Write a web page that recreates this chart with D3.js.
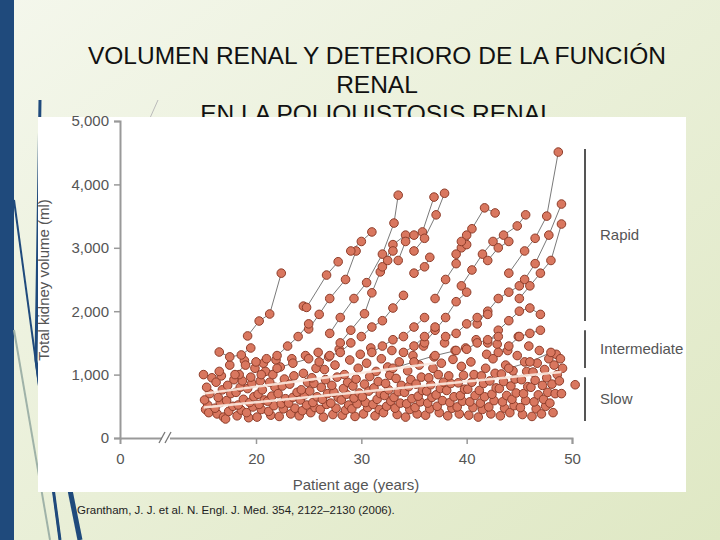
<!DOCTYPE html>
<html><head><meta charset="utf-8">
<script src="https://cdn.jsdelivr.net/npm/d3@7"></script>
<style>body{margin:0;}svg{display:block;}</style>
</head><body>
<svg id="c" width="720" height="540"></svg>
<script>
const titleLines = ["VOLUMEN RENAL Y DETERIORO DE LA FUNCIÓN", "RENAL", "EN LA POLIQUISTOSIS RENAL"];
const xTicks = [0, 20, 30, 40, 50];
const yTicks = [0, 1000, 2000, 3000, 4000, 5000];
const groups = [
  {name: "Rapid", from: 1845, to: 4560},
  {name: "Intermediate", from: 1104, to: 1700},
  {name: "Slow", from: 270, to: 960}
];
// rapid-growth patient trajectories: "age:volume" pairs
const trajectories = [
  "16.5:1356 17.5:1280 18.6:1310 19.5:1420",
  "19.2:1610 20.3:1845 21.3:1956 22.4:2600",
  "24.5:2080 24.8:2060 26.7:2570 27.8:2780",
  "25:1720 26:1950 27:2200 28.5:2500 29.5:2950",
  "27:1650 28:1900 29.3:2200 30.5:2450 32:2900 33.1:3390 33.5:3830",
  "28:1500 29:1700 30.3:1960 31:2290 31.8:2620 33:3050 34.2:3200",
  "29:2950 30:3100 31:3250",
  "33.5:2800 34.2:3100 35:3200 35.8:3250 36.9:3800",
  "35:2950 36:3150 37.1:3520 37.9:3860",
  "37:2200 38:2500 39:2750 39.5:3000 40:3050 40.5:3300 41.7:3630 42.7:3550",
  "39.5:2400 40.5:2650 41.5:2900 42.5:3100 43.5:3200 44.8:3345 45.6:3520",
  "44:2600 45.5:2950 46.5:3150 47.6:3500 48.7:4510",
  "45.5:2500 46.5:2750 47.8:3200 49:3690",
  "45:2200 46:2400 47:2600 48:2800 49:3375",
  "41:1800 42:2000 43:2200 44:2300 45:2400",
  "22:1300 23:1450 24:1600 25:1800",
  "30:1600 31:1750 32:1850 33:2050 34:2250",
  "31:1350 32:1450 33:1550 34:1600 35:1750 36:1900",
  "36:1500 37:1700 38:1900 39:2150 40:2300",
  "34:1350 35:1450 36:1600 37:1750",
  "38:1600 39:1650 40:1800 41:1900 42:1950",
  "42:1500 43:1700 44:1850 45:2000 46:2050 47:1950",
  "18:1000 19:1150 20:1200 21:1250",
  "26:1200 27:1300 28:1350 29:1500",
  "43:1350 44:1450 45:1600 46:1650 47:1700",
  "40:1400 41:1500 42:1550 43:1600",
  "32:2700 32.5:2800 33:2950",
  "39:2900 39.5:3100 40:3200",
  "42:2800 43:3000 44:3100",
  "35:2600 36:2700 36.5:2850",
  "20.5:1000 22:1100 23.5:1180 25:1250",
  "33:1100 35:1200 37:1300 39:1380",
  "44:1100 46:1200 48:1350"
];
// slow / intermediate single measurements: "age:volume"
const scatter = [
  "15.2:450 15.4:520 15.1:600 15.6:700 15.3:800 15.8:950 15.0:1000 15.5:400",
  "16.3:380 16.1:470 16.6:560 16.4:640 16.8:760 16.2:880 16.7:980 16.5:1050 16.9:330",
  "17.1:300 17.4:420 17.8:500 17.2:590 17.6:700 17.3:830 17.9:920 17.5:1150",
  "18.2:350 18.6:440 18.3:520 18.8:610 18.1:720 18.5:800 18.7:900 18.4:1000 18.9:1220",
  "19.3:320 19.1:400 19.7:490 19.4:560 19.8:650 19.2:780 19.6:860 19.5:960 19.9:1100",
  "20.1:330 20.5:450 20.3:530 20.8:600 20.2:690 20.6:760 20.4:900 20.9:1050 20.7:1180",
  "21.4:360 21.2:420 21.7:510 21.1:580 21.5:660 21.8:800 21.3:880 21.6:1000 21.9:1230",
  "22.2:340 22.6:460 22.4:540 22.8:620 22.1:700 22.5:820 22.7:930 22.3:1120",
  "23.3:380 23.7:470 23.1:550 23.5:640 23.9:720 23.2:850 23.6:980 23.4:1250",
  "24.1:350 24.4:430 24.8:520 24.2:600 24.6:680 24.3:760 24.9:880 24.5:1020 24.7:1300",
  "25.2:400 25.6:480 25.4:560 25.8:650 25.1:740 25.5:860 25.3:950 25.7:1100 25.9:1350",
  "26.4:330 26.1:450 26.7:530 26.3:610 26.8:700 26.2:800 26.6:920 26.5:1080 26.9:1280",
  "27.3:370 27.6:470 27.1:550 27.8:640 27.4:720 27.2:830 27.7:960 27.5:1150 27.9:1400",
  "28.2:360 28.5:440 28.8:520 28.1:600 28.6:690 28.3:780 28.7:880 28.4:1000 28.9:1230",
  "29.4:340 29.1:460 29.6:540 29.3:630 29.8:710 29.2:820 29.5:930 29.7:1100 29.9:1320",
  "30.2:380 30.6:480 30.4:560 30.1:650 30.7:740 30.3:850 30.8:970 30.5:1180 30.9:1420",
  "31.3:350 31.7:450 31.1:530 31.5:610 31.8:700 31.2:790 31.6:890 31.4:1050 31.9:1250",
  "32.1:400 32.4:500 32.8:580 32.2:670 32.6:760 32.3:860 32.7:990 32.5:1120 32.9:1380",
  "33.4:370 33.2:470 33.7:550 33.1:640 33.5:730 33.8:830 33.3:940 33.6:1200",
  "34.2:330 34.6:450 34.3:540 34.8:620 34.1:720 34.5:810 34.7:920 34.4:1060 34.9:1300",
  "35.3:380 35.1:480 35.6:570 35.4:660 35.8:750 35.2:850 35.7:960 35.5:1150 35.9:1450",
  "36.1:360 36.5:460 36.3:550 36.7:640 36.2:740 36.6:840 36.4:950 36.8:1100 36.9:1280",
  "37.4:400 37.2:500 37.7:590 37.1:680 37.5:780 37.8:880 37.3:1000 37.6:1180 37.9:1500",
  "38.2:350 38.6:470 38.4:560 38.8:650 38.1:750 38.5:860 38.3:980 38.7:1240 38.9:1380",
  "39.3:380 39.1:490 39.6:580 39.4:670 39.8:770 39.2:870 39.7:990 39.5:1130 39.9:1420",
  "40.2:360 40.6:480 40.3:570 40.8:670 40.1:770 40.5:880 40.7:1000 40.4:1200 40.9:1550",
  "41.1:330 41.5:450 41.3:550 41.7:650 41.2:750 41.6:860 41.4:980 41.8:1100 41.9:1320",
  "42.3:380 42.1:490 42.6:590 42.4:690 42.8:790 42.2:900 42.7:1020 42.5:1250 42.9:1480",
  "43.2:350 43.6:470 43.4:570 43.8:670 43.1:780 43.5:890 43.3:1010 43.7:1150 43.9:1380",
  "44.1:400 44.5:510 44.3:610 44.7:710 44.2:820 44.6:930 44.4:1060 44.8:1300 44.9:1600",
  "45.3:370 45.1:480 45.6:590 45.4:700 45.8:810 45.2:920 45.7:1050 45.5:1200 45.9:1450",
  "46.2:340 46.6:460 46.4:570 46.8:680 46.1:800 46.5:910 46.3:1040 46.7:1180 46.9:1380",
  "47.1:380 47.5:500 47.3:610 47.7:720 47.2:830 47.6:950 47.4:1080 47.8:1250",
  "48.2:400 47.9:550 48.4:700 48.1:850 48.6:1000 48.3:1150 48.5:1320",
  "49.0:700 48.8:900 49.1:1100 48.9:1250 50.3:840"
];
// white trend lines (start/end)
const trendSlow = [[15, 480], [49, 1040]];
const trendInter = [[15, 700], [37, 1180]];
const citation = "Grantham, J. J. et al. N. Engl. J. Med. 354, 2122–2130 (2006).";

const parse = s => s.split(" ").map(p => p.split(":").map(Number));
const svg = d3.select("#c");
const defs = svg.append("defs");
const g = defs.append("linearGradient").attr("id","bg").attr("x1","0").attr("y1","0").attr("x2","1").attr("y2","1");
g.append("stop").attr("offset","0").attr("stop-color","#f4f7ec");
g.append("stop").attr("offset","1").attr("stop-color","#dfe8c4");
svg.append("rect").attr("width",720).attr("height",540).attr("fill","url(#bg)");
svg.append("rect").attr("width",14).attr("height",540).attr("fill","#1f4a7c");
const deco = svg.append("g").attr("fill","none");
deco.append("path").attr("d","M40,100 L36,360 L60,540").attr("stroke","#1f4a7c").attr("stroke-width",3);
deco.append("path").attr("d","M14,200 L60,540").attr("stroke","#1f4a7c").attr("stroke-width",2);
deco.append("path").attr("d","M14,330 L50,540").attr("stroke","#9fb2a8").attr("stroke-width",2);
deco.append("path").attr("d","M70,490 L80,540").attr("stroke","#1f4a7c").attr("stroke-width",5);
deco.append("path").attr("d","M150,118 L158,100").attr("stroke","#bbb").attr("stroke-width",1);

svg.append("g").selectAll("text").data(titleLines).join("text")
  .attr("x",377).attr("y",(d,i)=>64+i*29).attr("text-anchor","middle")
  .attr("font-family","Liberation Sans, Arial").attr("font-size",24.5).attr("fill","#111").text(d=>d);

svg.append("rect").attr("x",38).attr("y",117).attr("width",648).attr("height",375).attr("fill","#fff");

const x = d3.scaleLinear().domain([0,10,20,50]).range([120,151,256,572]);
const y = d3.scaleLinear().domain([0,5000]).range([438,121]);
const font = "Liberation Sans, Arial";

const ya = svg.append("g").attr("transform","translate(120,0)")
  .call(d3.axisLeft(y).tickValues(yTicks).tickFormat(d3.format(",")).tickSize(6).tickPadding(5));
const xa = svg.append("g").attr("transform","translate(0,438)")
  .call(d3.axisBottom(x).tickValues(xTicks).tickSize(6).tickPadding(9));
[ya,xa].forEach(a=>{a.select(".domain").attr("stroke","#999").attr("stroke-width",2);
  a.selectAll(".tick line").attr("stroke","#999").attr("stroke-width",1.5);
  a.selectAll("text").attr("font-family",font).attr("font-size",15).attr("fill","#555");});
xa.selectAll(".tick").filter(d=>d===0).select("line").remove();
// axis break mark
svg.append("rect").attr("x",162).attr("y",432).attr("width",8).attr("height",12).attr("fill","#fff");
[162,168].forEach(px=>svg.append("line").attr("x1",px-3).attr("y1",443).attr("x2",px+3).attr("y2",432).attr("stroke","#777").attr("stroke-width",1.3));

svg.append("text").attr("x",356).attr("y",490).attr("text-anchor","middle").attr("font-family",font).attr("font-size",15).attr("fill","#555").text("Patient age (years)");
svg.append("text").attr("transform","translate(49,280) rotate(-90)").attr("text-anchor","middle").attr("font-family",font).attr("font-size",15).attr("fill","#555").text("Total kidney volume (ml)");

const line = d3.line().x(d=>x(d[0])).y(d=>y(d[1]));
const trajs = trajectories.map(parse);
svg.append("g").selectAll("path").data(trajs).join("path").attr("d",line)
  .attr("fill","none").attr("stroke","#7a7a7a").attr("stroke-width",1);

const dots = scatter.flatMap(parse).concat(trajs.flat());
svg.append("g").selectAll("circle").data(dots).join("circle")
  .attr("cx",d=>x(d[0])).attr("cy",d=>y(d[1])).attr("r",4.3)
  .attr("fill","#d9775f").attr("stroke","#8e3d2a").attr("stroke-width",1);

[trendSlow,trendInter].forEach(t=>svg.append("path").attr("d",line(t)).attr("stroke","#fbe9df").attr("stroke-width",2.5).attr("fill","none").attr("opacity",0.9));

const gg = svg.append("g");
groups.forEach(gr=>{
  gg.append("line").attr("x1",585).attr("x2",585).attr("y1",y(gr.to)).attr("y2",y(gr.from)).attr("stroke","#555").attr("stroke-width",2);
  gg.append("text").attr("x",600).attr("y",(y(gr.to)+y(gr.from))/2+5).attr("font-family",font).attr("font-size",15).attr("fill","#555").text(gr.name);
});

svg.append("text").attr("x",77).attr("y",514).attr("font-family",font).attr("font-size",11.5).attr("fill","#222").text(citation);
</script>
</body></html>
